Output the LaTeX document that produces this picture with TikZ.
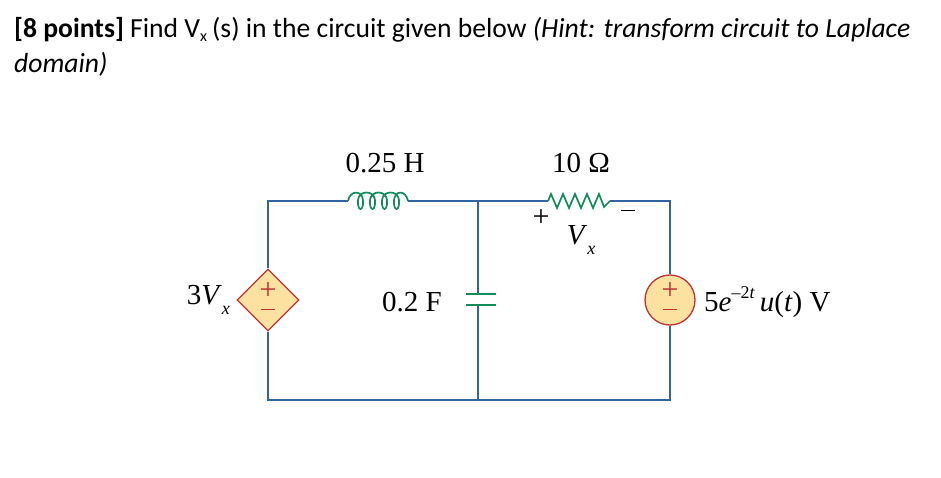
\documentclass[tikz,border=0pt]{standalone}
\usepackage{fontspec}
\setmainfont{Liberation Serif}
\newfontfamily\calfont{Carlito}
\usetikzlibrary{decorations.pathmorphing,shapes.geometric}
\definecolor{wire}{RGB}{50,100,160}
\definecolor{comp}{RGB}{20,140,90}
\definecolor{srcfill}{RGB}{253,225,160}
\definecolor{srcline}{RGB}{190,50,50}
\newcommand{\vxsym}{\textit{V}\raisebox{-0.35em}{\fontsize{18}{18}\selectfont\textit{x}}}
\tikzset{x=1pt,y=-1pt,
 w/.style={draw=wire,line width=1.5pt},
 lab/.style={font=\fontsize{29}{32}\selectfont,inner sep=0pt},
 pm/.style={font=\fontsize{30}{30}\selectfont,inner sep=0pt,text=srcline},
}
\begin{document}
\begin{tikzpicture}
\useasboundingbox (0,0) rectangle (941,478);
\node[anchor=base west,inner sep=0pt,font=\calfont\fontsize{27.6}{30}\selectfont] (t1) at (14,38) {\textbf{[8 points]} Find V\textsubscript{\fontsize{16}{16}\selectfont x}\,(s) in the circuit given below \textit{(Hint: transform circuit to Laplace}};
\node[anchor=base west,inner sep=0pt,font=\calfont\fontsize{27.6}{30}\selectfont] (t2) at (14,73) {\textit{domain)}};
% coordinates
\coordinate (tl) at (268,201); \coordinate (tm) at (478,201); \coordinate (tr) at (670,201);
\coordinate (bl) at (268,400); \coordinate (bm) at (478,400); \coordinate (br) at (670,400);
\coordinate (l1) at (348,201); \coordinate (l2) at (408,201);
\coordinate (r1) at (548,201); \coordinate (r2) at (610,201);
\coordinate (c1) at (478,294); \coordinate (c2) at (478,305);
\node[diamond,draw=srcline,fill=srcfill,line width=1.3pt,minimum width=62pt,minimum height=62pt,inner sep=0pt] (ds) at (268,300) {};
\node[circle,draw=srcline,fill=srcfill,line width=1.3pt,minimum size=50pt,inner sep=0pt] (is) at (670,300) {};
\draw[w] (ds.north) -- (tl) -- (l1);
\draw[w] (l2) -- (r1);
\draw[w] (r2) -- (tr) -- (is.north);
\draw[w] (is.south) -- (br) -- (bl) -- (ds.south);
\draw[w] (tm) -- (c1); \draw[w] (c2) -- (bm);
\draw[comp,line width=1.7pt] (466,294) -- (496,294) (466,305) -- (496,305);
% inductor
\draw[comp,line width=1.7pt] (l1) .. controls (350,190) and (362,190) .. (363,200)
 .. controls (364,212) and (357,212) .. (358,200) .. controls (359,190) and (374,190) .. (375,200)
 .. controls (376,212) and (369,212) .. (370,200) .. controls (371,190) and (386,190) .. (387,200)
 .. controls (388,212) and (381,212) .. (382,200) .. controls (383,190) and (398,190) .. (399,200)
 .. controls (400,212) and (393,212) .. (394,200) .. controls (395,190) and (406,190) .. (l2);
% resistor
\draw[comp,line width=1.7pt] (r1) -- (551,194) -- (557,208) -- (563,194) -- (569,208) -- (575,194) -- (581,208) -- (587,194) -- (593,208) -- (599,194) -- (604,207) -- (r2);
% signs
\node[pm] (dp) at (268,291) {+}; \node[pm] (dm) at (268,313) {\rule[0.25em]{0.45em}{1.3pt}};
\node[pm] (ip) at (670,291) {+}; \node[pm] (im) at (670,313) {\rule[0.25em]{0.45em}{1.3pt}};
\node[pm,text=black] (rp) at (541,218) {+}; \node[pm,text=black] (rm) at (628,214) {\rule[0.25em]{0.45em}{1.3pt}};
% labels
\node[lab] (lh) at (385,163) {0.25 H};
\node[lab] (lr) at (581,163) {10 Ω};
\node[lab] (lvx) at (581,240) {\vxsym};
\node[lab] (lc) at (412,302) {0.2 F};
\node[lab,anchor=east] (ld) at (230,300) {3\vxsym};
\node[lab,anchor=west] (li) at (704,302) {5\textit{e}\raisebox{0.45em}{\fontsize{18}{18}\selectfont\textit{–}2\textit{t}}\,\textit{u}(\textit{t}) V};
\end{tikzpicture}
\end{document}
